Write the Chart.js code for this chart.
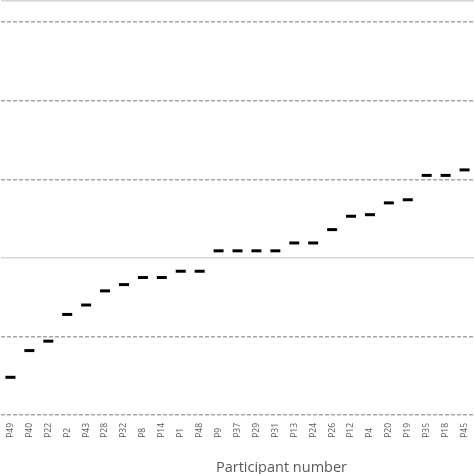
<!DOCTYPE html>
<html>
<head>
<meta charset="utf-8">
<script src="https://cdn.jsdelivr.net/npm/chart.js@4.4.1/dist/chart.umd.min.js"></script>
<style>
  html, body { margin: 0; padding: 0; background: #fff; }
  #wrap { width: 474px; height: 474px; }
</style>
</head>
<body>
<div id="wrap"><canvas id="chart"></canvas></div>
<script>
// participants, in plotted order
const participants = ['P49', 'P40', 'P22', 'P2', 'P43', 'P28', 'P32', 'P8', 'P14', 'P1', 'P48', 'P9', 'P37',
    'P29', 'P31', 'P13', 'P24', 'P26', 'P12', 'P4', 'P20', 'P19', 'P35', 'P18', 'P45'];

// mean score per participant
const scores = [1.48, 1.82, 1.94, 2.28, 2.40, 2.58, 2.66, 2.75, 2.75, 2.83, 2.83, 3.09, 3.09,
    3.09, 3.09, 3.19, 3.19, 3.36, 3.53, 3.55, 3.70, 3.74, 4.05, 4.05, 4.12];

// gridline values (the chart is cropped, so the top edge is not a whole step)
const yTicks = [1, 2, 3, 4, 5, 6, 6.27];
const solidLines = [3, 6.27];

const titlePlugin = {
    id: 'xTitle',
    afterDraw(chart) {
        const ctx = chart.ctx;
        const area = chart.chartArea;
        ctx.save();
        ctx.font = '14.5px "Open Sans"';
        ctx.fillStyle = '#595959';
        ctx.textAlign = 'center';
        ctx.textBaseline = 'alphabetic';
        ctx.fillText('Participant number', (area.left + area.right) / 2 + 44, 472);
        ctx.restore();
    }
};

const ctxChart = document.getElementById('chart').getContext('2d');

const chart = new Chart(ctxChart, {
    type: 'line',
    data: {
        labels: participants,
        datasets: [{
            label: 'Score',
            data: scores,
            showLine: false,
            pointStyle: 'line',
            pointRadius: 5,
            pointHoverRadius: 5,
            borderColor: '#000',
            borderWidth: 3
        }]
    },
    options: {
        responsive: true,
        maintainAspectRatio: false,
        animation: false,
        layout: { autoPadding: false, padding: { left: 1, top: 1, right: 0, bottom: 0 } },
        plugins: {
            legend: { display: false },
            tooltip: { enabled: false }
        },
        scales: {
            x: {
                offset: true,
                grid: { display: false, drawTicks: false },
                border: { display: false },
                ticks: {
                    autoSkip: false,
                    minRotation: 90,
                    maxRotation: 90,
                    padding: 8,
                    color: '#595959',
                    font: { family: '"Open Sans"', size: 8.5 },
                    // pad short labels so they all start at the same baseline
                    callback: function (value) {
                        const lbl = this.getLabelForValue(value);
                        return lbl.length < 3 ? lbl + '\u2007' : lbl;
                    }
                },
                afterFit: (scale) => {
                    scale.height = 59;
                    scale.paddingLeft = 0;
                    scale.paddingRight = 0;
                }
            },
            y: {
                min: 1,
                max: 6.27,
                afterBuildTicks: (scale) => { scale.ticks = yTicks.map(v => ({ value: v })); },
                ticks: { display: false },
                grid: {
                    drawTicks: false,
                    color: (c) => solidLines.includes(c.tick.value) ? '#d6d6d6' : '#a6a6a6',
                    lineWidth: 1.5
                },
                border: {
                    display: false,
                    dash: (c) => solidLines.includes(c.tick.value) ? [] : [4, 2]
                }
            }
        }
    },
    plugins: [titlePlugin]
});
</script>
</body>
</html>
